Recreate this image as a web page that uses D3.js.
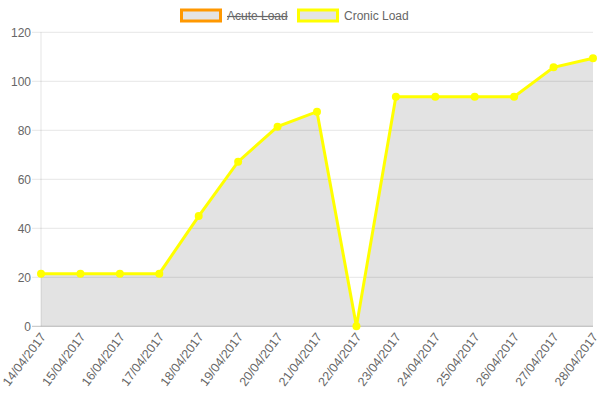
<!DOCTYPE html>
<html><head><meta charset="utf-8">
<script src="https://cdn.jsdelivr.net/npm/d3@7"></script>
<style>body{margin:0;background:#fff}svg{display:block}text{font-family:"Liberation Sans",Arial,Helvetica,sans-serif}</style>
</head><body><svg id="c" width="600" height="400"></svg>
<script>
const categories = ["14/04/2017","15/04/2017","16/04/2017","17/04/2017","18/04/2017","19/04/2017","20/04/2017","21/04/2017","22/04/2017","23/04/2017","24/04/2017","25/04/2017","26/04/2017","27/04/2017","28/04/2017"];
const cronicLoad = [21.5,21.5,21.5,21.5,45,67.2,81.5,87.6,0,93.7,93.7,93.7,93.7,105.7,109.4];
const yTicks = [0,20,40,60,80,100,120];
const legendItems = [{name:"Acute Load",stroke:"#ff9800",hidden:true},{name:"Cronic Load",stroke:"#ffff00",hidden:false}];

(function(){
const svg = d3.select("#c");
const pL = 41, pR = 593, pT = 32.3, pB = 326.3;
const x = d3.scalePoint().domain(categories).range([pL,pR]);
const y = d3.scaleLinear().domain([0,120]).range([pB,pT]);

const g = svg.append("g");
yTicks.forEach(t=>{
  g.append("line").attr("x1",pL-9).attr("x2",pR).attr("y1",y(t)).attr("y2",y(t))
   .attr("stroke", t===0 ? "rgba(0,0,0,0.25)" : "rgba(0,0,0,0.1)").attr("stroke-width",1);
  g.append("text").attr("x",pL-10).attr("y",y(t)).attr("dy","0.35em").attr("text-anchor","end")
   .attr("font-size",12).attr("fill","#666").text(t);
});
g.append("line").attr("x1",pL).attr("x2",pL).attr("y1",pT).attr("y2",pB).attr("stroke","rgba(0,0,0,0.1)");

const area = d3.area().x((d,i)=>x(categories[i])).y0(y(0)).y1(d=>y(d));
svg.append("path").datum(cronicLoad).attr("d",area).attr("fill","rgba(0,0,0,0.11)");
const line = d3.line().x((d,i)=>x(categories[i])).y(d=>y(d));
svg.append("path").datum(cronicLoad).attr("d",line).attr("fill","none").attr("stroke","#ffff00").attr("stroke-width",3).attr("stroke-linejoin","miter");
svg.selectAll("circle.p").data(cronicLoad).enter().append("circle")
  .attr("cx",(d,i)=>x(categories[i])).attr("cy",d=>y(d)).attr("r",4).attr("fill","#ffff00");

categories.forEach(c=>{
  svg.append("text").attr("transform",`translate(${x(c)+2},${pB+8}) rotate(-53)`)
    .attr("text-anchor","end").attr("dy","0.35em").attr("font-size",12.5).attr("fill","#666").text(c);
});

const lg = svg.append("g");
const lx = [180, 297];
legendItems.forEach((it,i)=>{
  lg.append("rect").attr("x",lx[i]+1.5).attr("y",10).attr("width",39).attr("height",11)
    .attr("fill","#e4e4e4").attr("stroke",it.stroke).attr("stroke-width",3);
  const t = lg.append("text").attr("x",lx[i]+47).attr("y",16).attr("dy","0.35em").attr("font-size",12).attr("fill","#666").text(it.name);
  if(it.hidden) t.attr("text-decoration","line-through");
});
})();
</script></body></html>
